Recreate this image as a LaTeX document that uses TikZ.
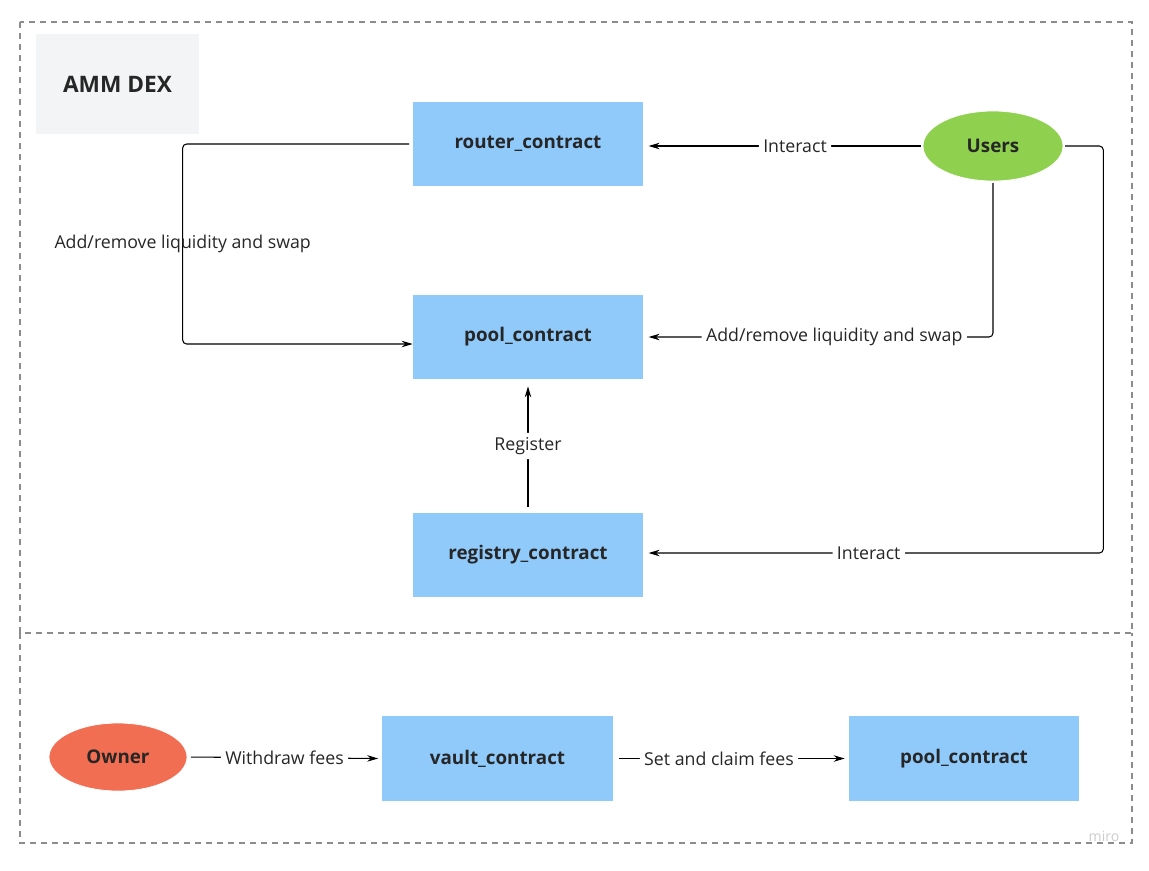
\documentclass[tikz,border=0pt]{standalone}
\usepackage{fontspec}
\setmainfont{Open Sans}
\usetikzlibrary{arrows.meta, shapes.geometric, calc}

\definecolor{boxblue}{HTML}{8FCAFB}
\definecolor{usergreen}{HTML}{8FD14F}
\definecolor{ownerred}{HTML}{F26E52}
\definecolor{titlegray}{HTML}{F3F4F6}
\definecolor{framegray}{HTML}{8C8C8C}

\begin{document}
\begin{tikzpicture}[x=0.02cm, y=-0.02cm,
contract/.style={rectangle, fill=boxblue, minimum width=4.6cm, minimum height=1.68cm, inner sep=0pt, font=\fontsize{10.7}{12}\selectfont\bfseries, text=black!85},
actor/.style={ellipse, draw=white, minimum width=2.8cm, minimum height=1.4cm, inner sep=0pt, font=\fontsize{10.7}{12}\selectfont\bfseries, text=black!85},
frame/.style={draw=framegray, line width=0.8pt, dash pattern=on 0.12cm off 0.1cm},
link/.style={line width=0.6pt, rounded corners=0.08cm},
arrow/.style={link, -{Stealth[length=0.22cm, width=0.13cm]}},
lbl/.style={fill=white, inner sep=2.5pt, font=\fontsize{10.1}{12}\selectfont, text=black!85}]
\useasboundingbox (0,0) rectangle (1149,870);
% frames
\draw[frame] (20,22) rectangle (1132,633);
\draw[frame] (20,633) -- (20,843) -- (1132,843) -- (1132,633);
\node[fill=titlegray, minimum width=3.26cm, minimum height=2cm, inner sep=0pt, font=\fontsize{12.9}{15}\selectfont\bfseries, text=black!85] (title) at (117.5,84) {AMM DEX};
% contracts
\node[contract] (router) at (528,144) {router\_contract};
\node[contract] (pool) at (528,337) {pool\_contract};
\node[contract] (registry) at (528,555) {registry\_contract};
\node[actor, fill=usergreen] (users) at (993,146) {Users};
\node[actor, fill=ownerred, minimum width=2.76cm, minimum height=1.36cm] (owner) at (118,757) {Owner};
\node[contract, minimum width=4.62cm, minimum height=1.7cm] (vault) at (497.5,758.5) {vault\_contract};
\node[contract, minimum width=4.62cm, minimum height=1.7cm] (pool2) at (964,758.5) {pool\_contract};
% connectors
\draw[arrow, shorten <=1pt, shorten >=3pt] (users.west) -- node[pos=0.457, lbl] {Interact} (router.east |- users.west);
\draw[arrow, shorten <=2pt] (router.west) -- ++(-230,0) |- node[pos=0.25, font=\fontsize{10.1}{12}\selectfont, text=black!85] {Add/remove liquidity and swap} ([yshift=-0.14cm]pool.west);
\draw[arrow, shorten <=1pt, shorten >=3pt] (users.south) |- node[pos=0.727, lbl] {Add/remove liquidity and swap} (pool.east);
\draw[arrow, shorten <=1pt, shorten >=3pt] (users.east) -| ++(40,200) |- node[pos=0.755, lbl] {Interact} ([yshift=0.04cm]registry.east);
\draw[arrow, shorten <=3pt, shorten >=4pt] (registry.north) -- node[lbl] {Register} (pool.south);
\draw[arrow, shorten <=2pt, shorten >=2pt] (owner.east) -- node[lbl] {Withdraw fees} (vault.west);
\draw[arrow, shorten <=3pt, shorten >=2pt] (vault.east) -- node[pos=0.45, lbl] {Set and claim fees} (pool2.west);
\node[text=black!20, font=\fontsize{8}{9}\selectfont] (miro) at (1104,836) {miro};
\end{tikzpicture}
\end{document}
